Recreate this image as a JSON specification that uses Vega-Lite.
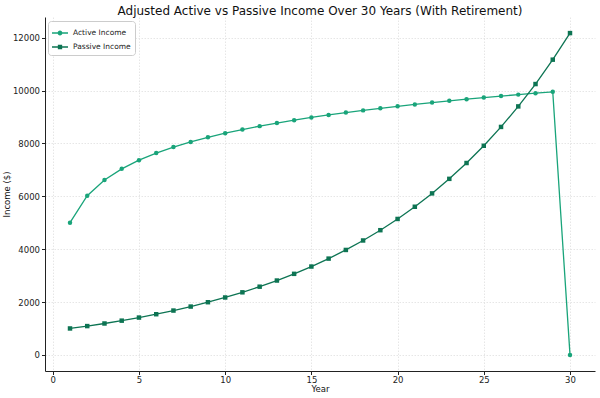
{
  "$schema": "https://vega.github.io/schema/vega-lite/v6.json",
  "width": 550,
  "height": 354,
  "autosize": {"type": "none"},
  "padding": {"left": 45, "top": 17, "right": 5, "bottom": 27},
  "background": "white",
  "title": {
    "text": "Adjusted Active vs Passive Income Over 30 Years (With Retirement)",
    "font": "DejaVu Sans",
    "fontSize": 12,
    "fontWeight": "normal",
    "color": "#111",
    "anchor": "middle",
    "offset": -1
  },
  "config": {
    "view": {"stroke": null},
    "font": "DejaVu Sans",
    "axis": {
      "domainColor": "#222",
      "domainWidth": 1,
      "tickColor": "#222",
      "tickSize": 3.5,
      "labelFont": "DejaVu Sans",
      "labelFontSize": 8.5,
      "labelColor": "#222",
      "titleFont": "DejaVu Sans",
      "titleFontSize": 8.5,
      "titleFontWeight": "normal",
      "titleColor": "#111",
      "gridColor": "#e0e0e0",
      "gridDash": [1.5, 1.5],
      "gridWidth": 0.8
    }
  },
  "resolve": {
    "scale": {"shape": "independent", "color": "independent"},
    "legend": {"shape": "independent", "color": "independent"}
  },
  "data": {
    "values": [
      {"year": 1, "series": "Active Income", "income": 5000},
      {"year": 2, "series": "Active Income", "income": 6019},
      {"year": 3, "series": "Active Income", "income": 6615},
      {"year": 4, "series": "Active Income", "income": 7038},
      {"year": 5, "series": "Active Income", "income": 7366},
      {"year": 6, "series": "Active Income", "income": 7634},
      {"year": 7, "series": "Active Income", "income": 7860},
      {"year": 8, "series": "Active Income", "income": 8057},
      {"year": 9, "series": "Active Income", "income": 8230},
      {"year": 10, "series": "Active Income", "income": 8385},
      {"year": 11, "series": "Active Income", "income": 8525},
      {"year": 12, "series": "Active Income", "income": 8653},
      {"year": 13, "series": "Active Income", "income": 8770},
      {"year": 14, "series": "Active Income", "income": 8879},
      {"year": 15, "series": "Active Income", "income": 8981},
      {"year": 16, "series": "Active Income", "income": 9076},
      {"year": 17, "series": "Active Income", "income": 9165},
      {"year": 18, "series": "Active Income", "income": 9249},
      {"year": 19, "series": "Active Income", "income": 9328},
      {"year": 20, "series": "Active Income", "income": 9404},
      {"year": 21, "series": "Active Income", "income": 9475},
      {"year": 22, "series": "Active Income", "income": 9544},
      {"year": 23, "series": "Active Income", "income": 9609},
      {"year": 24, "series": "Active Income", "income": 9672},
      {"year": 25, "series": "Active Income", "income": 9732},
      {"year": 26, "series": "Active Income", "income": 9789},
      {"year": 27, "series": "Active Income", "income": 9845},
      {"year": 28, "series": "Active Income", "income": 9898},
      {"year": 29, "series": "Active Income", "income": 9950},
      {"year": 30, "series": "Active Income", "income": 0},
      {"year": 1, "series": "Passive Income", "income": 1000},
      {"year": 2, "series": "Passive Income", "income": 1090},
      {"year": 3, "series": "Passive Income", "income": 1188},
      {"year": 4, "series": "Passive Income", "income": 1295},
      {"year": 5, "series": "Passive Income", "income": 1412},
      {"year": 6, "series": "Passive Income", "income": 1539},
      {"year": 7, "series": "Passive Income", "income": 1677},
      {"year": 8, "series": "Passive Income", "income": 1828},
      {"year": 9, "series": "Passive Income", "income": 1993},
      {"year": 10, "series": "Passive Income", "income": 2172},
      {"year": 11, "series": "Passive Income", "income": 2367},
      {"year": 12, "series": "Passive Income", "income": 2580},
      {"year": 13, "series": "Passive Income", "income": 2813},
      {"year": 14, "series": "Passive Income", "income": 3066},
      {"year": 15, "series": "Passive Income", "income": 3342},
      {"year": 16, "series": "Passive Income", "income": 3642},
      {"year": 17, "series": "Passive Income", "income": 3970},
      {"year": 18, "series": "Passive Income", "income": 4328},
      {"year": 19, "series": "Passive Income", "income": 4717},
      {"year": 20, "series": "Passive Income", "income": 5142},
      {"year": 21, "series": "Passive Income", "income": 5604},
      {"year": 22, "series": "Passive Income", "income": 6109},
      {"year": 23, "series": "Passive Income", "income": 6659},
      {"year": 24, "series": "Passive Income", "income": 7258},
      {"year": 25, "series": "Passive Income", "income": 7911},
      {"year": 26, "series": "Passive Income", "income": 8623},
      {"year": 27, "series": "Passive Income", "income": 9399},
      {"year": 28, "series": "Passive Income", "income": 10245},
      {"year": 29, "series": "Passive Income", "income": 11167},
      {"year": 30, "series": "Passive Income", "income": 12172}
    ]
  },
  "encoding": {
    "x": {
      "field": "year",
      "type": "quantitative",
      "scale": {"domain": [-0.45, 31.45], "nice": false, "zero": false},
      "axis": {"values": [0, 5, 10, 15, 20, 25, 30], "title": "Year", "titlePadding": 0, "labelPadding": 1}
    },
    "y": {
      "field": "income",
      "type": "quantitative",
      "scale": {"domain": [-609, 12781], "nice": false, "zero": false},
      "axis": {"values": [0, 2000, 4000, 6000, 8000, 10000, 12000], "format": "d", "title": "Income ($)", "titlePadding": 1, "labelPadding": 2}
    }
  },
  "layer": [
    {
      "mark": {"type": "line", "strokeWidth": 1.3},
      "encoding": {
        "color": {
          "field": "series",
          "type": "nominal",
          "scale": {"domain": ["Active Income", "Passive Income"], "range": ["#19a47a", "#0d7453"]},
          "legend": null
        }
      }
    },
    {
      "mark": {"type": "point", "filled": true, "opacity": 1},
      "encoding": {
        "color": {
          "field": "series",
          "type": "nominal",
          "scale": {"domain": ["Active Income", "Passive Income"], "range": ["#19a47a", "#0d7453"]},
          "legend": null
        },
        "shape": {
          "field": "series",
          "type": "nominal",
          "scale": {"domain": ["Active Income", "Passive Income"], "range": ["circle", "square"]},
          "legend": null
        },
        "size": {"value": 20}
      }
    },
    {
      "mark": {"type": "point", "filled": true, "opacity": 0},
      "encoding": {
        "shape": {
          "field": "series",
          "type": "nominal",
          "scale": {
            "domain": ["Active Income", "Passive Income"],
            "range": [
              "M-1,-0.09H1V0.09H-1Z M-0.3,0A0.3,0.3 0 1,1 0.3,0A0.3,0.3 0 1,1 -0.3,0Z",
              "M-1,-0.09H1V0.09H-1Z M-0.27,-0.27H0.27V0.27H-0.27Z"
            ]
          },
          "legend": {
            "title": null,
            "orient": "none",
            "legendX": 3,
            "legendY": 4,
            "fillColor": "white",
            "strokeColor": "#cccccc",
            "cornerRadius": 3,
            "padding": 4,
            "symbolSize": 256,
            "symbolOpacity": 1,
            "symbolStrokeWidth": 0,
            "labelFontSize": 7.5,
            "labelFont": "DejaVu Sans",
            "labelColor": "#222",
            "rowPadding": 2,
            "labelOffset": 5
          }
        },
        "color": {
          "field": "series",
          "type": "nominal",
          "scale": {"domain": ["Active Income", "Passive Income"], "range": ["#19a47a", "#0d7453"]},
          "legend": {
            "title": null,
            "orient": "none",
            "legendX": 3,
            "legendY": 4,
            "fillColor": "white",
            "strokeColor": "#cccccc",
            "cornerRadius": 3,
            "padding": 4,
            "symbolSize": 256,
            "symbolOpacity": 1,
            "symbolStrokeWidth": 0,
            "labelFontSize": 7.5,
            "labelFont": "DejaVu Sans",
            "labelColor": "#222",
            "rowPadding": 2,
            "labelOffset": 5
          }
        }
      }
    }
  ]
}
